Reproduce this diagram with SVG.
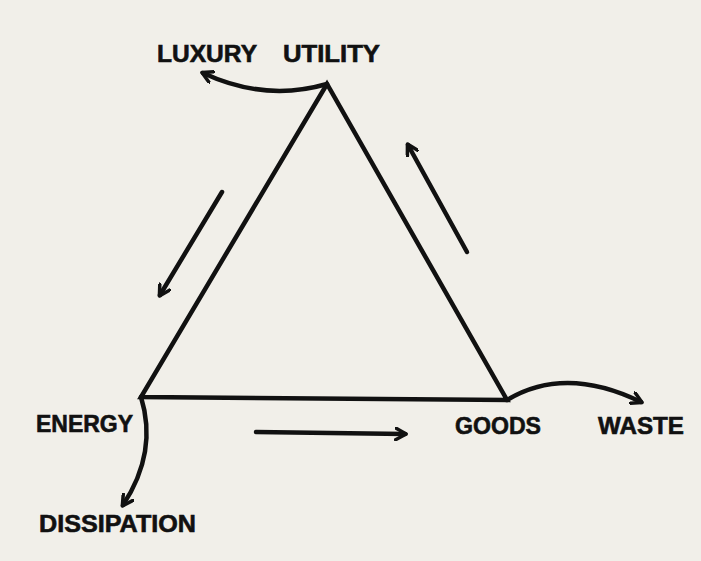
<svg xmlns="http://www.w3.org/2000/svg" width="701" height="561" viewBox="0 0 701 561">
<style>
.bg{fill:#f1efe9}
.edge{fill:none;stroke:#111;stroke-width:4.5;stroke-linejoin:miter;stroke-linecap:round}
.arr{fill:none;stroke:#111;stroke-width:4.5;stroke-linecap:round}
.lbl{font-family:"Liberation Sans",Arial,sans-serif;font-weight:bold;font-size:24px;fill:#111;stroke:#111;stroke-width:0.6}
</style>
<defs>
<marker id="ah" markerWidth="14" markerHeight="14" refX="9" refY="6" orient="auto" markerUnits="userSpaceOnUse" viewBox="0 0 12 12">
<path d="M1,1 L10,6 L1,11" fill="none" stroke="#111" stroke-width="3" stroke-linecap="round" stroke-linejoin="round"/>
</marker>
</defs>
<rect class="bg" x="0" y="0" width="701" height="561"/>
<g id="triangle">
<path class="edge" d="M327,84 L141,397 L507,400 Z"/>
</g>
<g id="luxury-utility"><text class="lbl" x="157" y="62" textLength="100" lengthAdjust="spacingAndGlyphs">LUXURY</text><text class="lbl" x="283" y="62" textLength="97" lengthAdjust="spacingAndGlyphs">UTILITY</text></g>
<g id="energy"><text class="lbl" x="36" y="432" textLength="97" lengthAdjust="spacingAndGlyphs">ENERGY</text></g>
<g id="goods"><text class="lbl" x="455" y="434" textLength="86" lengthAdjust="spacingAndGlyphs">GOODS</text></g>
<g id="waste"><text class="lbl" x="598" y="434" textLength="86" lengthAdjust="spacingAndGlyphs">WASTE</text></g>
<g id="dissipation"><text class="lbl" x="39" y="532" textLength="157" lengthAdjust="spacingAndGlyphs">DISSIPATION</text></g>
<g id="connectors">
<path class="arr" d="M327,84 Q265,102 203,73" marker-end="url(#ah)"/>
<path class="arr" d="M467,252 L408,145" marker-end="url(#ah)"/>
<path class="arr" d="M222,192 L160,295" marker-end="url(#ah)"/>
<path class="arr" d="M256,432 L405,434" marker-end="url(#ah)"/>
<path class="arr" d="M141,397 Q158,452 123,505" marker-end="url(#ah)"/>
<path class="arr" d="M507,400 Q565,365 641,402" marker-end="url(#ah)"/>
</g>
</svg>
